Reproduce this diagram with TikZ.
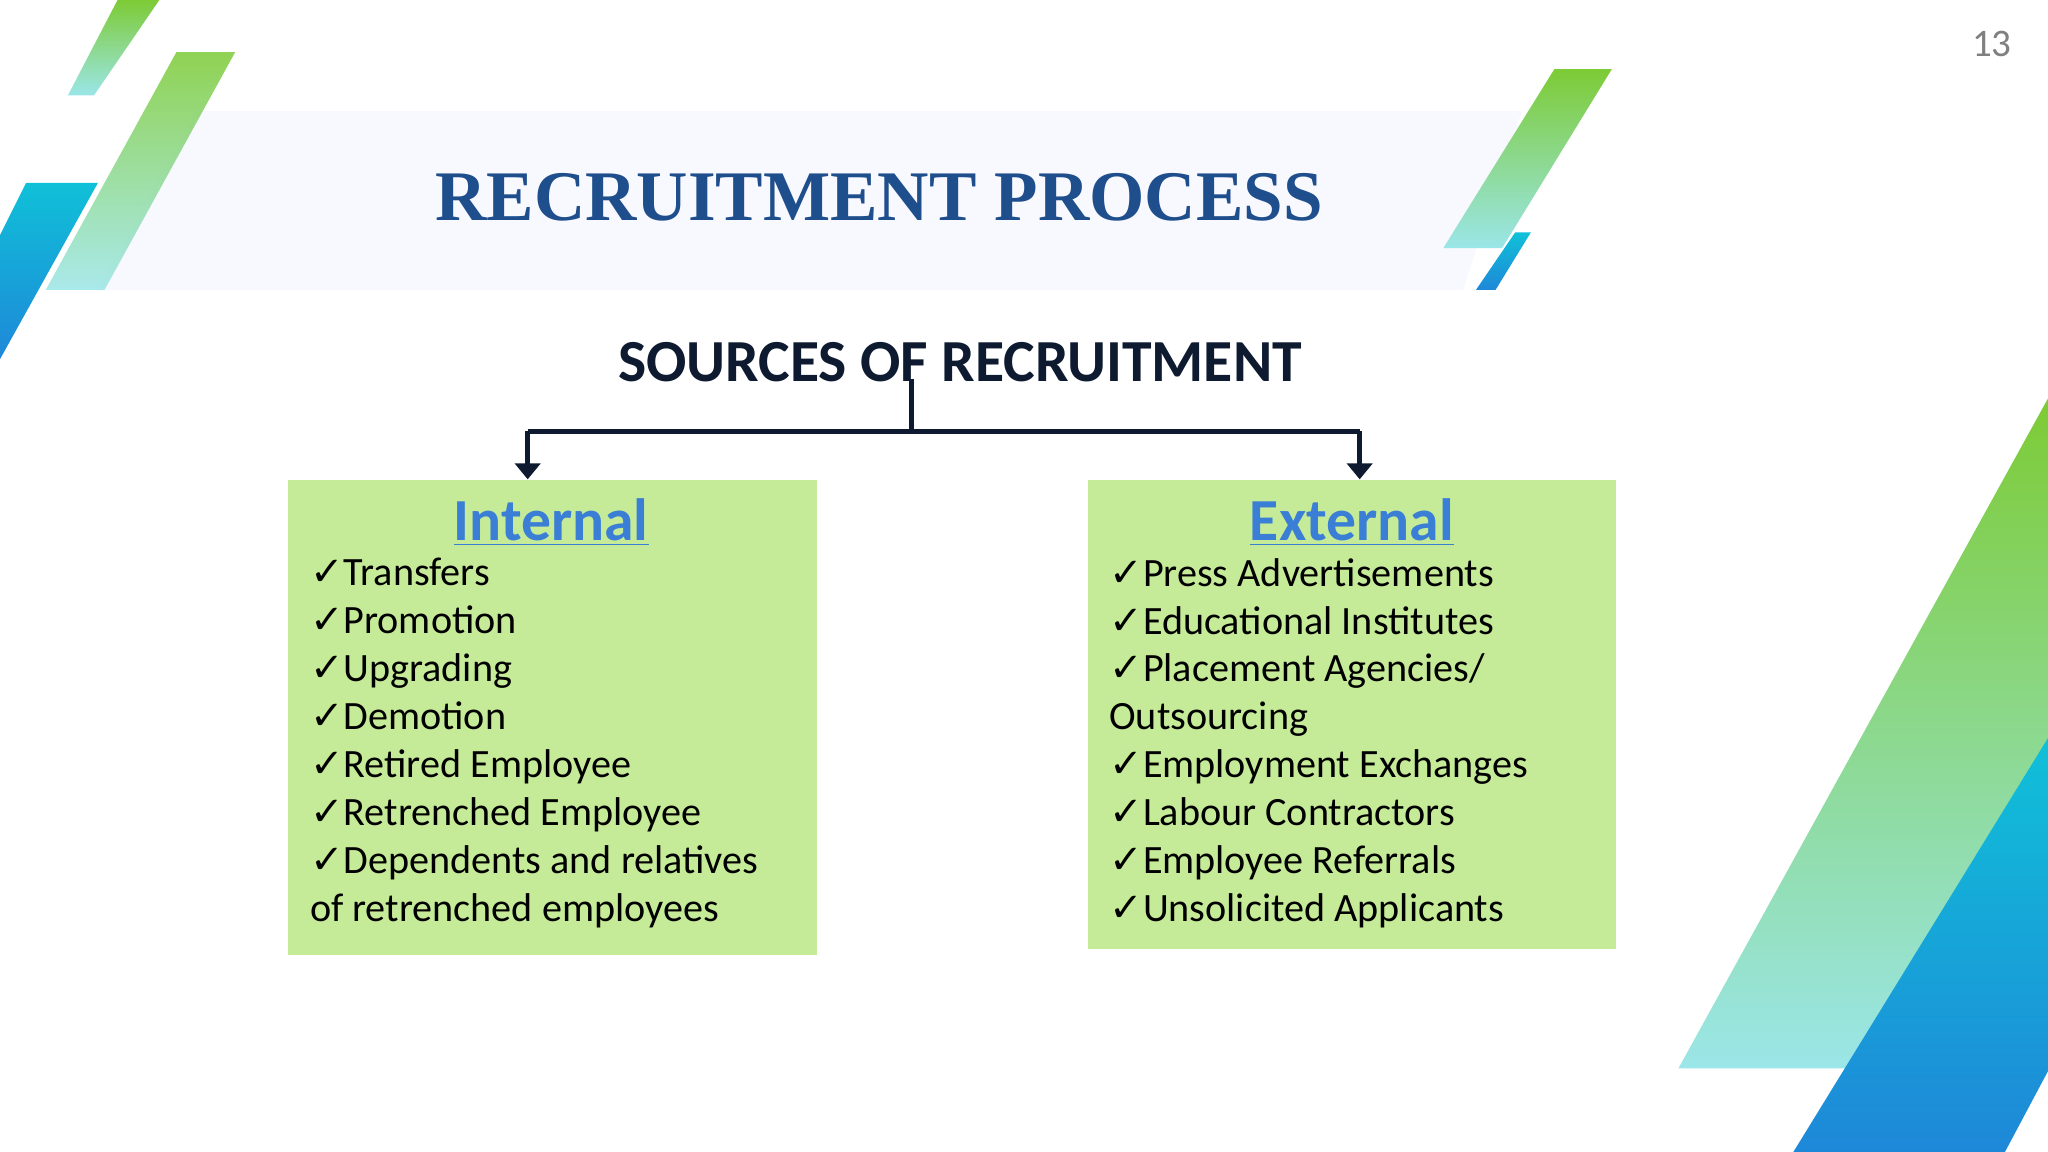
\documentclass[tikz,border=0pt]{standalone}
\usepackage{fontspec}
\setmainfont{Carlito}
\newfontfamily\titlefont{Liberation Serif}
\newfontfamily\symfont{DejaVu Sans}
\usetikzlibrary{arrows.meta}
\newcommand{\ck}{{\symfont\char"2713}}
\definecolor{boxgreen}{HTML}{C6EB98}
\definecolor{navy}{HTML}{1F4E8C}
\definecolor{dark}{HTML}{0E1A30}
\definecolor{linkblue}{HTML}{3A7FD5}
\definecolor{gA}{HTML}{7DCB35}
\definecolor{cA}{HTML}{9BE6E8}
\definecolor{bA}{HTML}{1E88D8}
\definecolor{bB}{HTML}{10C0D8}
\tikzset{
  gstripe/.style={top color=gA,bottom color=cA,draw=none},
  bstripe/.style={top color=bB,bottom color=bA,draw=none},
  srcbox/.style={fill=boxgreen,draw=none},
  item/.style={anchor=north west,align=left,font=\fontsize{17.5}{20.9}\selectfont,inner sep=0pt,text=black},
  head/.style={font=\fontsize{26}{30}\selectfont\bfseries,text=linkblue},
  conn/.style={draw=dark,line width=2.2pt},
  arr/.style={conn,-{Triangle[length=7pt,width=11pt]}}
}
\begin{document}
\begin{tikzpicture}[x=0.02cm,y=-0.02cm]
\useasboundingbox (0,0) rectangle (1568,882);
\fill[white] (0,0) rectangle (1568,882);
% banner
\fill[fill=gray!12!blue!3!white] (150,85) -- (1165,85) -- (1120,222) -- (75,222) -- cycle;
% top-left stripes
\shade[gstripe] (90,0) -- (122,0) -- (72,73) -- (52,73) -- cycle;
\shade[bstripe] (20,140) -- (75,140) -- (0,275) -- (0,180) -- cycle;
\shade[gstripe,opacity=0.85] (135,40) -- (180,40) -- (80,222) -- (35,222) -- cycle;
% top-right stripes
\shade[gstripe] (1190,53) -- (1234,53) -- (1150,190) -- (1105,190) -- cycle;
\shade[bstripe] (1160,178) -- (1172,178) -- (1145,222) -- (1130,222) -- cycle;
% bottom-right
\shade[gstripe] (1568,305) -- (1568,700) -- (1485,818) -- (1285,818) -- cycle;
\shade[bstripe] (1373,882) -- (1568,565) -- (1568,820) -- (1535,882) -- cycle;
% page number
\node[text=gray,font=\fontsize{17}{20}\selectfont] (pg) at (1525,34) {13};
% title
\node[text=navy,font=\titlefont\fontsize{31}{36}\selectfont\bfseries] (title) at (673,151) {RECRUITMENT PROCESS};
\node[text=dark,font=\fontsize{26}{30}\selectfont\bfseries] (src) at (735,277) {SOURCES OF RECRUITMENT};
% boxes
\node[srcbox,minimum width=405*0.02cm,minimum height=364*0.02cm,anchor=north west,inner sep=0pt] (ib) at (220,367) {};
\node[srcbox,minimum width=404*0.02cm,minimum height=359*0.02cm,anchor=north west,inner sep=0pt] (eb) at (833,367) {};
% connectors
\coordinate (top) at (698,290);
\coordinate (j) at (698,330);
\coordinate (jl) at (404,330);
\coordinate (jr) at (1041,330);
\draw[conn] (top) -- (j);
\draw[conn] (jl) -- (jr);
\draw[arr] (jl) -- (ib.north -| jl);
\draw[arr] (jr) -- (eb.north -| jr);
% headings
\node[head] (ih) at (422,400) {\underline{Internal}};
\node[head] (eh) at (1035,400) {\underline{External}};
% items
\node[item] (il) at (237,427) {\ck Transfers\\\ck Promotion\\\ck Upgrading\\\ck Demotion\\\ck Retired Employee\\\ck Retrenched Employee\\\ck Dependents and relatives\\of retrenched employees};
\node[item] (el) at (849,427) {\ck Press Advertisements\\\ck Educational Institutes\\\ck Placement Agencies/\\Outsourcing\\\ck Employment Exchanges\\\ck Labour Contractors\\\ck Employee Referrals\\\ck Unsolicited Applicants};
\end{tikzpicture}
\end{document}
